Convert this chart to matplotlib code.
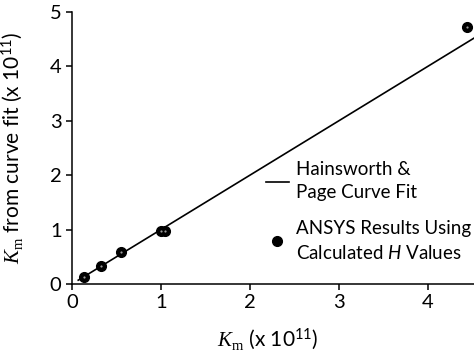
import matplotlib
matplotlib.use("Agg")
import matplotlib.pyplot as plt
from matplotlib.lines import Line2D

plt.rcParams['font.family'] = ['Lato', 'DejaVu Sans']
plt.rcParams['mathtext.fontset'] = 'custom'
plt.rcParams['mathtext.rm'] = 'Liberation Serif'
plt.rcParams['mathtext.it'] = 'Lato:italic'
plt.rcParams['mathtext.sf'] = 'Lato'
plt.rcParams['mathtext.cal'] = 'Liberation Serif:italic'

# Data (units of 1e11)
ansys_x = [0.13, 0.33, 0.55, 1.00, 1.045, 4.44]
ansys_y = [0.13, 0.34, 0.58, 0.98, 0.98, 4.73]
fit_x = [0.07, 4.52]
fit_y = [0.07, 4.52]
xticks = [0, 1, 2, 3, 4]
yticks = [0, 1, 2, 3, 4, 5]

fig = plt.figure(figsize=(4.74, 3.51), dpi=100)
ax = fig.add_axes([72/474, 1 - 284/351, 1 - 72/474, (284 - 12)/351])

fit_line, = ax.plot(fit_x, fit_y, color='black', lw=1.2, zorder=2)
ax.plot(ansys_x, ansys_y, linestyle='none', marker='o', ms=7,
        mfc='black', mec='black', zorder=3, clip_on=False)
ax.plot(ansys_x, ansys_y, linestyle='none', marker='o', ms=1.6,
        mfc='#9a9a9a', mec='none', zorder=4, clip_on=False)

ax.set_xlim(0, 4.52)
ax.set_ylim(0, 5)
ax.set_xticks(xticks)
ax.set_yticks(yticks)
ax.set_xticklabels([str(t) for t in xticks])
ax.set_yticklabels([str(t) for t in yticks])
for s in ['top', 'right']:
    ax.spines[s].set_visible(False)
for s in ['left', 'bottom']:
    ax.spines[s].set_linewidth(1.1)
ax.tick_params(direction='out', length=4.5, width=1.1, labelsize=14.5, pad=3)

ax.set_xlabel(r'$\mathcal{K}_{\mathrm{m}}$ (x 10$^{\mathsf{11}}$)', fontsize=15)
ax.xaxis.set_label_coords((267.5 - 72) / 402, -0.155)
ax.set_ylabel(r'$\mathcal{K}_{\mathrm{m}}$ from curve fit (x 10$^{\mathsf{11}}$)', fontsize=15, labelpad=18)

marker_handle = Line2D([], [], linestyle='none', marker='o', ms=7,
                       mfc='black', mec='black')
leg = fig.legend([fit_line, marker_handle],
                 ['Hainsworth &\nPage Curve Fit', 'ANSYS Results Using\nCalculated $H$ Values'],
                 loc='upper left', bbox_to_anchor=(266/474, 1 - 161/351),
                 frameon=False, fontsize=13.5, handlelength=1.2, handletextpad=0.4,
                 labelspacing=1.0, borderpad=0, borderaxespad=0)
for t in leg.get_texts():
    t.set_linespacing(1.45)

fig.savefig('out.png', dpi=100)
